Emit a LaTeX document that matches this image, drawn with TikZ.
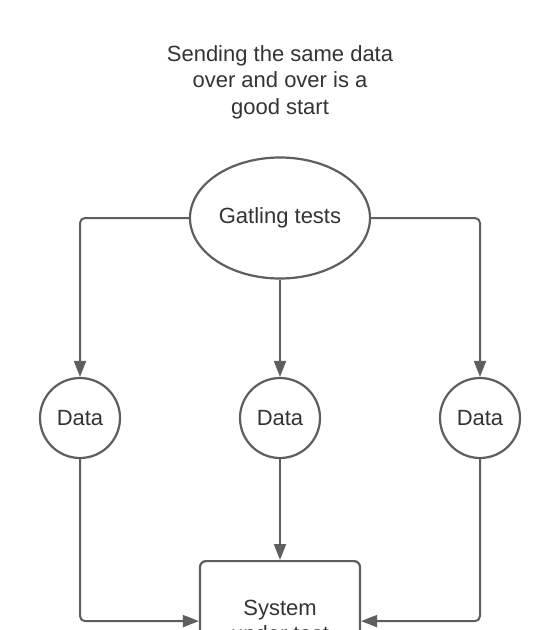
\documentclass[tikz,border=0pt]{standalone}
\usepackage{fontspec}
\setmainfont{Liberation Sans}
\usetikzlibrary{arrows.meta,shapes.geometric}
\definecolor{linegray}{HTML}{5E5E5E}
\definecolor{textgray}{HTML}{333333}
\begin{document}
\begin{tikzpicture}[x=1pt,y=-1pt,
  txt/.style={text=textgray,font=\fontsize{22}{26.5}\selectfont,align=center},
  line/.style={draw=linegray,line width=2.2pt},
  conn/.style={draw=linegray,line width=2pt,rounded corners=5pt,-{Triangle[length=16pt,width=12pt]}},
  datacirc/.style={circle,line,txt,minimum size=80pt,inner sep=0pt}]
  \useasboundingbox (0,0) rectangle (560,630);
  \clip (0,0) rectangle (560,630);
  \node[txt] (title) at (280,82) {Sending the same data\\over and over is a\\good start};
  \node[ellipse,line,txt,minimum width=180pt,minimum height=121pt,inner sep=0pt] (gatling) at (280,218) {Gatling tests};
  \node[datacirc] (dleft) at (80,418) {Data};
  \node[datacirc] (dmid) at (280,418) {Data};
  \node[datacirc] (dright) at (480,418) {Data};
  \node[line,txt,rounded corners=6pt,minimum width=160pt,minimum height=120pt,anchor=north] (sut) at (280,560) {System\\under test};
  \draw[conn] (gatling.west) -| (dleft.north);   %to left data
  \draw[conn] (gatling.south) -- (dmid.north);
  \draw[conn] (gatling.east) -| (dright.north);  %to right data
  \draw[conn] (dleft.south) |- (sut.west);
  \draw[conn] (dmid.south) -- (sut.north);
  \draw[conn] (dright.south) |- (sut.east);
\end{tikzpicture}
\end{document}
